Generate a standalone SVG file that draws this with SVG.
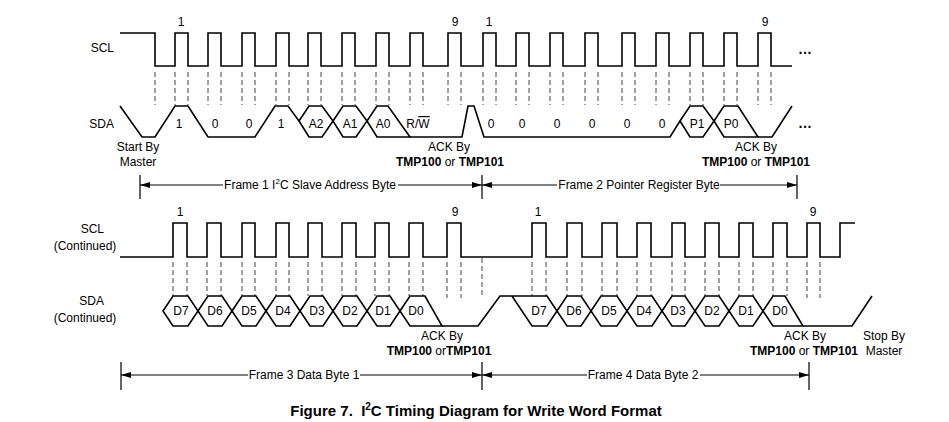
<svg xmlns="http://www.w3.org/2000/svg" width="949" height="422" viewBox="0 0 949 422">
<style>
.w{fill:none;stroke:#000;stroke-width:1.6;stroke-linejoin:miter}
.d{fill:none;stroke:#444;stroke-width:1;stroke-dasharray:5,3}
.t{font-family:"Liberation Sans",Arial,sans-serif;font-size:12px;fill:#000}
.c{text-anchor:middle}
.r{text-anchor:end}
.b{font-weight:bold}
.a{stroke:#000;stroke-width:1;fill:none}
.k{stroke:#000;stroke-width:1.2}
</style>
<defs>
<marker id="ah" viewBox="0 0 10 6" refX="10" refY="3" markerWidth="10" markerHeight="6" markerUnits="userSpaceOnUse" orient="auto-start-reverse"><path d="M0,0L10,3L0,6Z" fill="#000"/></marker>
</defs>
<rect width="949" height="422" fill="#fff"/>
<g id="scl-top">
<text class="t r" x="114" y="52">SCL</text>
<path class="w" d="M120,33H155V66H175V33H188V66H208V33H221V66H242V33H255V66H276V33H289V66H308V33H321V66H342V33H355V66H376V33H389V66H410V33H423V66H448V33H461V66H483V33H496V66H516V33H529V66H550V33H563V66H585V33H598V66H622V33H635V66H656V33H669V66H690V33H703V66H724V33H737V66H758V33H771V66H792"/>
<text class="t c" x="181" y="26">1</text><text class="t c" x="455" y="26">9</text>
<text class="t c" x="489" y="26">1</text><text class="t c" x="765" y="26">9</text>
<text class="t b" x="798" y="54" style="font-size:14px">…</text>
</g>
<g id="dashes-top">
<path class="d" d="M155,72V105M175,72V105M188,72V105M208,72V105M221,72V105M242,72V105M255,72V105M276,72V105M289,72V105M308,72V105M321,72V105M342,72V105M355,72V105M376,72V105M389,72V105M410,72V105M423,72V105M448,72V105M461,72V105M483,72V105M496,72V105M516,72V105M529,72V105M550,72V105M563,72V105M585,72V105M598,72V105M622,72V105M635,72V105M656,72V105M669,72V105M690,72V105M703,72V105M724,72V105M737,72V105M758,72V105M771,72V105"/>
</g>
<g id="sda-top">
<text class="t r" x="114" y="128">SDA</text>
<path class="w" d="M120,106L142,137H155L175,106H188L208,137H255L275,106H288L299,121"/>
<path class="w" d="M299,121L309,106H322L333,121L322,137H309Z"/>
<path class="w" d="M333,121L343,106H356L367,121L356,137H343Z"/>
<path class="w" d="M367,121L377,106H388L410,137H377Z"/>
<path class="w" d="M410,137H462L468,106H474L484,137H670L680,121"/>
<path class="w" d="M680,121L690,106H703L714,121L703,137H690Z"/>
<path class="w" d="M714,121L724,106H738L758,137H724Z"/>
<path class="w" d="M758,137H772L792,106"/>
<text class="t c" x="179" y="128">1</text><text class="t c" x="215" y="128">0</text><text class="t c" x="249" y="128">0</text><text class="t c" x="281" y="128">1</text>
<text class="t c" x="316" y="128">A2</text><text class="t c" x="350" y="128">A1</text><text class="t c" x="383" y="128">A0</text>
<text class="t c" x="418" y="128">R/<tspan text-decoration="overline">W</tspan></text>
<text class="t c" x="491" y="128">0</text><text class="t c" x="522" y="128">0</text><text class="t c" x="557" y="128">0</text><text class="t c" x="592" y="128">0</text><text class="t c" x="627" y="128">0</text><text class="t c" x="662" y="128">0</text>
<text class="t c" x="697" y="128">P1</text><text class="t c" x="731" y="128">P0</text>
<text class="t b" x="798" y="128" style="font-size:14px">…</text>
<text class="t c" x="138" y="151">Start By</text><text class="t c" x="138" y="166">Master</text>
<text class="t c" x="449" y="151">ACK By</text>
<text class="t c" x="450" y="166"><tspan class="b">TMP100</tspan> or <tspan class="b">TMP101</tspan></text>
<text class="t c" x="756" y="151">ACK By</text>
<text class="t c" x="756" y="166"><tspan class="b">TMP100</tspan> or <tspan class="b">TMP101</tspan></text>
</g>
<g id="frames-top">
<path class="k" d="M140,175V199M482,175V199M797,175V199"/>
<path class="a" d="M140,185H223M398,185H482" marker-start="url(#ah)" marker-end="url(#ah)"/>
<path class="a" d="M482,185H557M720,185H797" marker-start="url(#ah)" marker-end="url(#ah)"/>
<text class="t c" x="310" y="189">Frame 1 I<tspan dy="-5" font-size="8">2</tspan><tspan dy="5">C Slave Address Byte</tspan></text>
<text class="t c" x="639" y="189">Frame 2 Pointer Register Byte</text>
</g>
<g id="scl-bottom">
<text class="t r" x="104" y="233">SCL</text><text class="t c" x="85" y="250">(Continued)</text>
<path class="w" d="M120,257H173V223H187V257H207V223H221V257H242V223H255V257H276V223H289V257H308V223H322V257H342V223H356V257H375V223H389V257H409V223H423V257H447V223H461V257H532V223H546V257H567V223H582V257H602V223H617V257H637V223H651V257H672V223H685V257H705V223H719V257H739V223H753V257H773V223H787V257H807V223H820V257H840V223H855"/>
<text class="t c" x="180" y="216">1</text><text class="t c" x="455" y="216">9</text>
<text class="t c" x="538" y="216">1</text><text class="t c" x="813" y="216">9</text>
</g>
<g id="dashes-bottom">
<path class="d" d="M173,262V296M187,262V296M207,262V296M221,262V296M242,262V296M255,262V296M276,262V296M289,262V296M308,262V296M322,262V296M342,262V296M356,262V296M375,262V296M389,262V296M409,262V296M423,262V296M447,262V298M461,262V298M482,258V298M532,262V296M546,262V296M567,262V296M582,262V296M602,262V296M617,262V296M637,262V296M651,262V296M672,262V296M685,262V296M705,262V296M719,262V296M739,262V296M753,262V296M773,262V296M787,262V296M807,262V298M820,262V298"/>
</g>
<g id="sda-bottom">
<text class="t r" x="104" y="305">SDA</text><text class="t c" x="85" y="322">(Continued)</text>
<path class="w" d="M163,311L173,296H188L198,311L188,326H173Z"/>
<path class="w" d="M198,311L208,296H222L232,311L222,326H208Z"/>
<path class="w" d="M232,311L242,296H256L266,311L256,326H242Z"/>
<path class="w" d="M266,311L276,296H290L300,311L290,326H276Z"/>
<path class="w" d="M300,311L310,296H323L333,311L323,326H310Z"/>
<path class="w" d="M333,311L343,296H357L367,311L357,326H343Z"/>
<path class="w" d="M367,311L377,296H390L400,311L390,326H377Z"/>
<path class="w" d="M400,311L410,296H425L442,326H410Z"/>
<path class="w" d="M442,326H478L500,296H547L557,311L547,326H532L512,296"/>
<path class="w" d="M557,311L567,296H581L591,311L581,326H567Z"/>
<path class="w" d="M591,311L601,296H617L627,311L617,326H601Z"/>
<path class="w" d="M627,311L637,296H652L662,311L652,326H637Z"/>
<path class="w" d="M662,311L672,296H685L695,311L685,326H672Z"/>
<path class="w" d="M695,311L705,296H719L729,311L719,326H705Z"/>
<path class="w" d="M729,311L739,296H753L763,311L753,326H739Z"/>
<path class="w" d="M763,311L773,296H785L803,326H773Z"/>
<path class="w" d="M803,326H852L872,296"/>
<text class="t c" x="181" y="315">D7</text><text class="t c" x="215" y="315">D6</text><text class="t c" x="249" y="315">D5</text><text class="t c" x="283" y="315">D4</text><text class="t c" x="317" y="315">D3</text><text class="t c" x="350" y="315">D2</text><text class="t c" x="383" y="315">D1</text><text class="t c" x="416" y="315">D0</text>
<text class="t c" x="539" y="315">D7</text><text class="t c" x="574" y="315">D6</text><text class="t c" x="609" y="315">D5</text><text class="t c" x="644" y="315">D4</text><text class="t c" x="678" y="315">D3</text><text class="t c" x="712" y="315">D2</text><text class="t c" x="746" y="315">D1</text><text class="t c" x="780" y="315">D0</text>
<text class="t c" x="442" y="340">ACK By</text>
<text class="t c" x="439" y="355"><tspan class="b">TMP100</tspan> or<tspan class="b">TMP101</tspan></text>
<text class="t c" x="805" y="340">ACK By</text>
<text class="t c" x="804" y="355"><tspan class="b">TMP100</tspan> or <tspan class="b">TMP101</tspan></text>
<text class="t c" x="884" y="340">Stop By</text><text class="t c" x="884" y="355">Master</text>
</g>
<g id="frames-bottom">
<path class="k" d="M121,362V390M482,362V390M809,362V390"/>
<path class="a" d="M121,375H248M360,375H482" marker-start="url(#ah)" marker-end="url(#ah)"/>
<path class="a" d="M482,375H587M700,375H809" marker-start="url(#ah)" marker-end="url(#ah)"/>
<text class="t c" x="304" y="379">Frame 3 Data Byte 1</text>
<text class="t c" x="643" y="379">Frame 4 Data Byte 2</text>
</g>
<text class="t c b" x="476" y="416" style="font-size:15px">Figure 7.&#160; I<tspan dy="-6" font-size="10">2</tspan><tspan dy="6">C Timing Diagram for Write Word Format</tspan></text>
</svg>
